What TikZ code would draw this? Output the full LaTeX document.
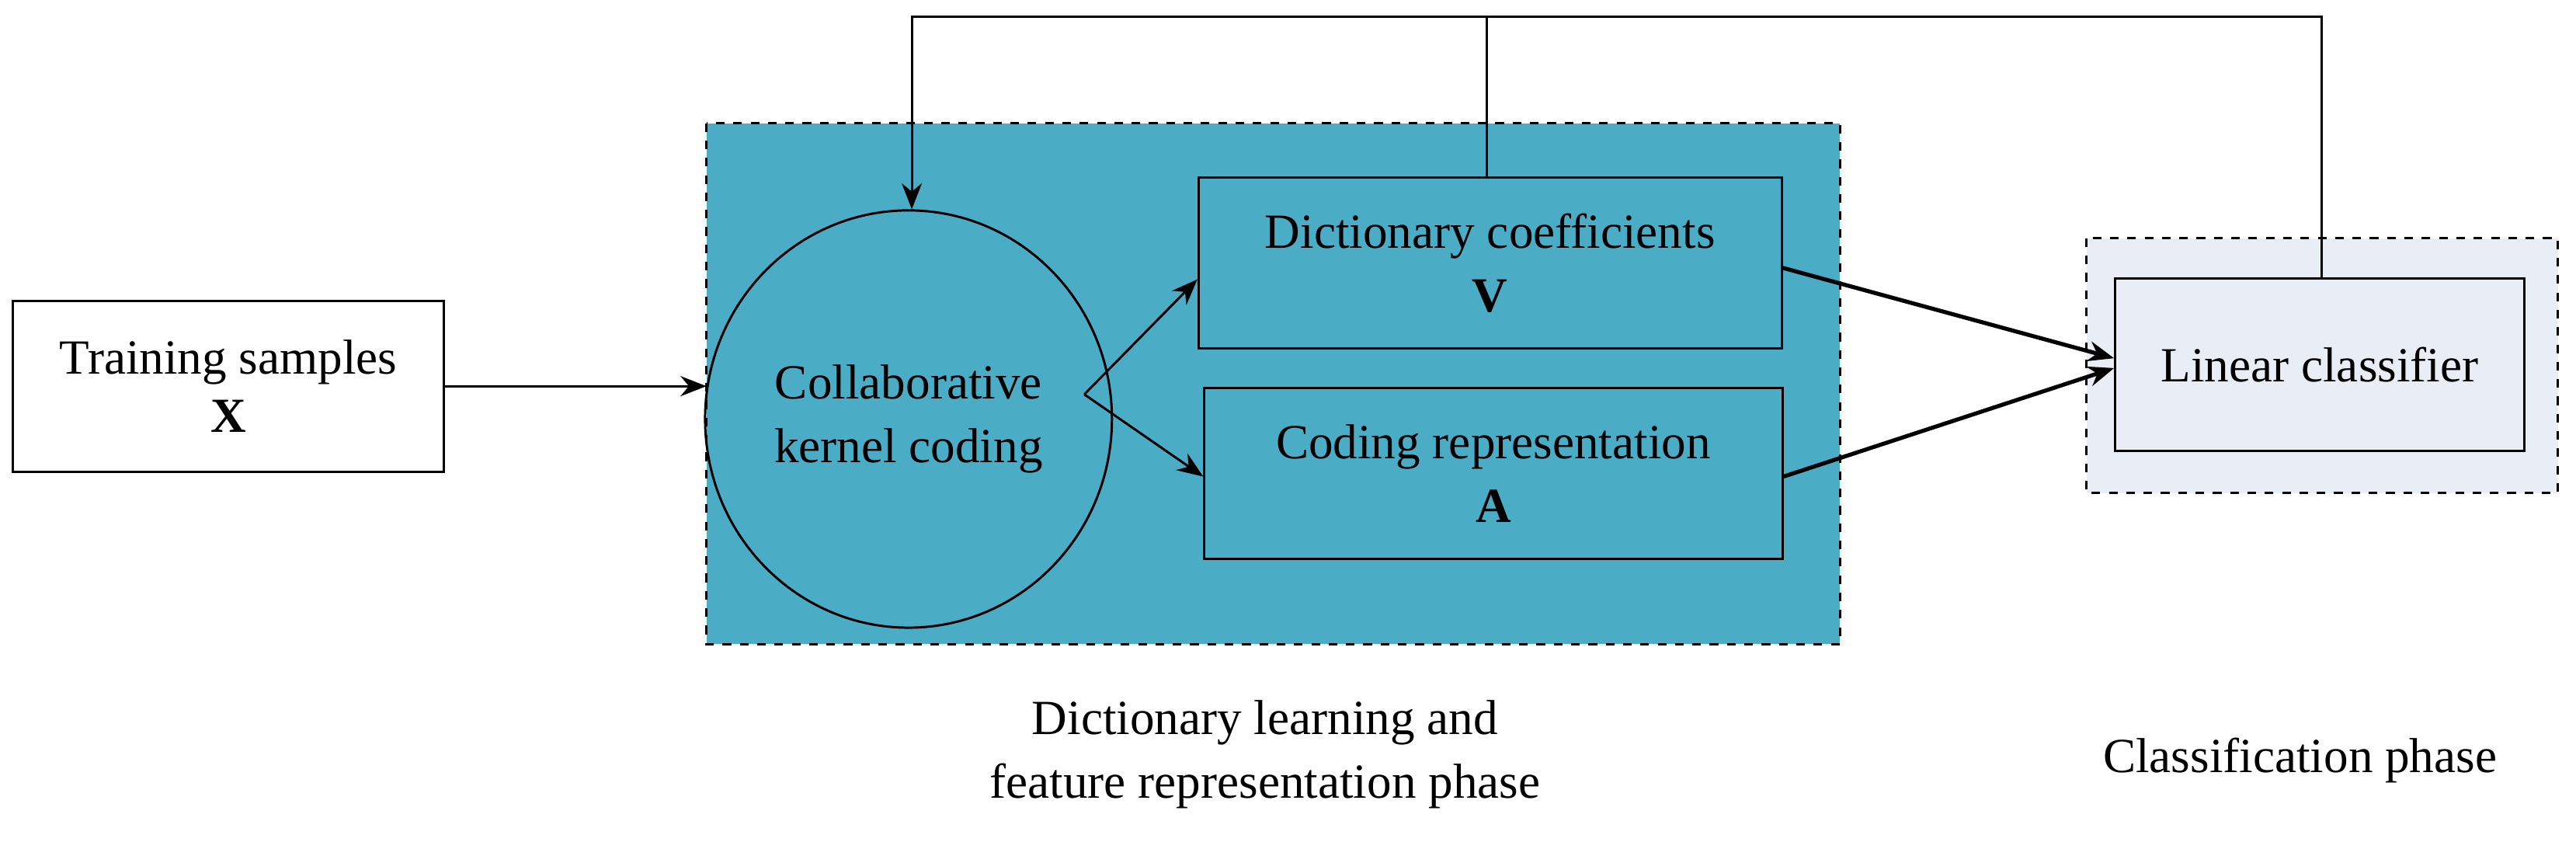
\documentclass[tikz,border=0pt]{standalone}
\usepackage{fontspec}
\setmainfont{Liberation Serif}
\usetikzlibrary{shapes.geometric,arrows.meta}
\definecolor{blu}{HTML}{4BACC6}
\definecolor{lgt}{HTML}{E9EEF6}
\begin{document}
\begin{tikzpicture}[x=0.02cm,y=-0.02cm,
  box/.style={draw,thick,minimum width=#1,align=center,font=\fontsize{17}{20}\selectfont},
  reg/.style={draw,dashed,thick},
  arr/.style={-{Stealth[length=9pt,width=7pt]},thick},
  lbl/.style={align=center,font=\fontsize{17}{22}\selectfont}]
\useasboundingbox (0,0) rectangle (1568,512);
\draw[reg,fill=blu] (430,75) rectangle (1120,392);
\draw[reg,fill=lgt] (1270,145) rectangle (1557,300);
\node[box=262\tikzunit,draw,fill=white,minimum width=5.24cm,minimum height=2.08cm] (ts) at (139,235) {Training samples\\ \textbf{X}};
\node[draw,thick,ellipse,minimum width=4.26cm,minimum height=5.08cm,align=center,font=\fontsize{17}{22}\selectfont] (ck) at (553,255) {Collaborative\\kernel coding};
\node[draw,thick,minimum width=7.1cm,minimum height=2.08cm,align=center,font=\fontsize{17}{22}\selectfont] (dc) at (907,160) {Dictionary coefficients\\ \textbf{V}};
\node[draw,thick,minimum width=7.04cm,minimum height=2.08cm,align=center,font=\fontsize{17}{22}\selectfont] (cr) at (909,288) {Coding representation\\ \textbf{A}};
\node[draw,thick,fill=lgt,minimum width=4.98cm,minimum height=2.1cm,font=\fontsize{17}{22}\selectfont] (lc) at (1412,222) {Linear classifier};
\coordinate (rg) at (430,235);
\draw[arr] (ts.east |- 0,235) -- (rg);
\draw[arr] (660,240) -- (dc.west |- 0,170);
\draw[arr] (660,240) -- (cr.west |- 0,290);
\draw[arr,line width=1.4pt] (dc.east |- 0,163) -- (lc.west |- 0,218);
\draw[arr,line width=1.4pt] (cr.east |- 0,290) -- (lc.west |- 0,224);
\coordinate (t1) at (555,10);
\coordinate (t2) at (1413,10);
\draw[arr] (lc.north -| t2) -- (t2) -- (t1) -- (ck.north -| t1);
\draw[thick] (905,10) -- (dc.north -| 905,0);
\node[lbl] at (770,459) {Dictionary learning and\\feature representation phase};
\node[lbl] at (1400,463) {Classification phase};
\end{tikzpicture}
\end{document}
